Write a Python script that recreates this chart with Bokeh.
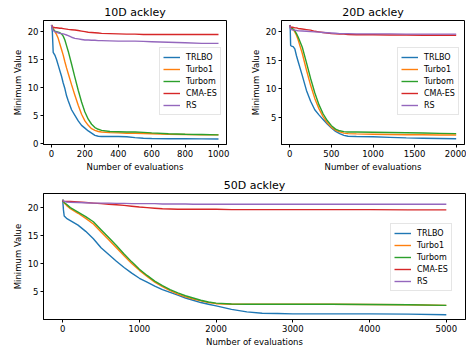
from bokeh.plotting import figure
from bokeh.layouts import column, row
from bokeh.models import Range1d, FixedTicker, Title
from bokeh.embed import file_html
from bokeh.resources import INLINE

# ---------------- data ----------------
series_names = ["TRLBO", "Turbo1", "Turbom", "CMA-ES", "RS"]
colors = ["#1f77b4", "#ff7f0e", "#2ca02c", "#d62728", "#9467bd"]

# 10D ackley
x10 = [0, 5, 10, 20, 30, 40, 50, 60, 70, 80, 90, 100, 120, 140, 160, 180, 200,
       220, 240, 260, 280, 300, 350, 400, 450, 500, 550, 600, 700, 800, 900, 1000]
trlbo10 = [21.2, 20.0, 16.3, 15.8, 15.0, 14.0, 13.0, 12.0, 10.8, 9.8, 8.5, 7.6, 6.0, 5.0, 4.0, 3.2, 2.7,
           2.2, 1.8, 1.4, 1.25, 1.2, 1.2, 1.2, 1.15, 1.0, 0.9, 0.85, 0.8, 0.8, 0.78, 0.75]
turbo1_10 = [21.2, 20.8, 20.5, 20.0, 19.5, 18.8, 17.8, 16.8, 15.8, 14.6, 13.5, 12.5, 10.5, 8.6, 6.8, 5.2, 4.0,
             3.2, 2.6, 2.3, 2.1, 2.0, 1.9, 1.85, 1.8, 1.8, 1.75, 1.7, 1.6, 1.55, 1.5, 1.5]
turbom10 = [21.2, 20.8, 20.4, 20.1, 20.0, 19.9, 19.8, 19.6, 19.2, 18.5, 17.5, 16.5, 14.2, 11.8, 9.5, 7.4, 5.6,
            4.3, 3.4, 2.8, 2.5, 2.3, 2.1, 2.05, 2.0, 2.0, 1.95, 1.85, 1.7, 1.6, 1.55, 1.5]
cmaes10 = [21.2, 20.9, 20.8, 20.7, 20.7, 20.65, 20.6, 20.6, 20.55, 20.5, 20.45, 20.4, 20.35, 20.3, 20.2, 20.1, 20.0,
           19.9, 19.85, 19.8, 19.75, 19.7, 19.65, 19.6, 19.55, 19.55, 19.5, 19.5, 19.5, 19.5, 19.5, 19.5]
rs10 = [21.2, 20.5, 20.2, 20.0, 19.9, 19.8, 19.7, 19.65, 19.6, 19.5, 19.4, 19.3, 19.0, 18.8, 18.7, 18.6, 18.5,
        18.5, 18.45, 18.45, 18.4, 18.4, 18.35, 18.3, 18.3, 18.3, 18.25, 18.2, 18.1, 18.0, 17.9, 17.9]

# 20D ackley
x20 = [0, 5, 10, 20, 40, 60, 80, 100, 150, 200, 250, 300, 350, 400, 450, 500, 550, 600, 650, 700,
       800, 1000, 1200, 1400, 1600, 1800, 2000]
trlbo20 = [21.2, 20.5, 17.6, 17.5, 17.4, 17.0, 15.8, 14.8, 12.3, 9.7, 7.8, 6.3, 5.4, 4.6, 3.8, 3.1, 2.5, 2.1, 1.8, 1.65,
           1.6, 1.55, 1.45, 1.35, 1.3, 1.25, 1.2]
turbo1_20 = [21.2, 20.9, 20.7, 20.6, 20.4, 20.0, 19.4, 18.6, 16.2, 13.3, 10.6, 8.3, 6.5, 5.1, 4.0, 3.2, 2.7, 2.4, 2.2, 2.1,
             2.05, 2.0, 1.95, 1.9, 1.9, 1.85, 1.85]
turbom20 = [21.2, 21.0, 20.8, 20.7, 20.5, 20.2, 19.7, 19.1, 17.3, 14.6, 11.8, 9.3, 7.2, 5.6, 4.4, 3.5, 2.9, 2.6, 2.45, 2.4,
            2.4, 2.35, 2.3, 2.25, 2.2, 2.15, 2.1]
cmaes20 = [21.2, 20.9, 20.8, 20.8, 20.8, 20.7, 20.7, 20.6, 20.5, 20.4, 20.3, 20.1, 20.0, 19.9, 19.8, 19.7, 19.65, 19.6, 19.6, 19.55,
           19.5, 19.5, 19.45, 19.45, 19.4, 19.4, 19.4]
rs20 = [21.2, 20.7, 20.5, 20.4, 20.3, 20.3, 20.25, 20.2, 20.15, 20.1, 20.05, 20.0, 19.95, 19.9, 19.85, 19.8, 19.75, 19.7, 19.7, 19.7,
        19.65, 19.65, 19.65, 19.6, 19.6, 19.6, 19.6]

# 50D ackley
x50 = [0, 10, 20, 50, 100, 200, 300, 400, 500, 600, 700, 800, 900, 1000, 1100, 1200, 1300, 1400, 1500,
       1600, 1700, 1800, 1900, 2000, 2200, 2400, 2600, 2800, 3000, 3500, 4000, 4500, 5000]
trlbo50 = [21.3, 19.5, 18.4, 18.0, 17.6, 16.8, 15.7, 14.4, 12.8, 11.6, 10.4, 9.3, 8.3, 7.4, 6.7, 6.0, 5.4, 4.9, 4.4,
           3.9, 3.5, 3.1, 2.8, 2.5, 1.9, 1.45, 1.2, 1.15, 1.1, 1.1, 1.1, 1.05, 0.95]
turbo1_50 = [21.3, 21.0, 20.7, 20.3, 19.7, 18.9, 18.0, 17.0, 15.6, 14.2, 12.8, 11.4, 10.0, 8.8, 7.7, 6.7, 5.9, 5.2, 4.6,
             4.1, 3.7, 3.4, 3.1, 2.9, 2.8, 2.8, 2.8, 2.8, 2.8, 2.8, 2.75, 2.7, 2.6]
turbom50 = [21.3, 21.0, 20.8, 20.5, 19.9, 19.1, 18.3, 17.4, 16.0, 14.6, 13.2, 11.7, 10.3, 9.0, 7.9, 6.9, 6.1, 5.4, 4.8,
            4.3, 3.9, 3.5, 3.2, 3.0, 2.85, 2.8, 2.8, 2.8, 2.8, 2.8, 2.75, 2.7, 2.6]
cmaes50 = [21.1, 21.0, 21.0, 21.0, 21.0, 20.9, 20.8, 20.7, 20.6, 20.5, 20.4, 20.3, 20.15, 20.0, 19.9, 19.8, 19.7, 19.65, 19.6,
           19.6, 19.6, 19.6, 19.6, 19.6, 19.55, 19.55, 19.55, 19.55, 19.55, 19.55, 19.55, 19.5, 19.5]
rs50 = [21.3, 21.1, 21.0, 20.9, 20.85, 20.8, 20.75, 20.7, 20.7, 20.7, 20.65, 20.65, 20.6, 20.6, 20.6, 20.6, 20.55, 20.55, 20.55,
        20.55, 20.5, 20.5, 20.5, 20.5, 20.5, 20.5, 20.5, 20.5, 20.5, 20.5, 20.5, 20.5, 20.5]

titles = ["10D ackley", "20D ackley", "50D ackley"]
x_ticks10 = [0, 200, 400, 600, 800, 1000]
x_ticks20 = [0, 500, 1000, 1500, 2000]
x_ticks50 = [0, 1000, 2000, 3000, 4000, 5000]
y_ticks10 = [0, 5, 10, 15, 20]
y_ticks20 = [5, 10, 15, 20]
y_ticks50 = [5, 10, 15, 20]

FONT = "DejaVu Sans"


def make_panel(title, xs, ys_list, xr, yr, xt, yt, w, h, bl, br, bt, bb, legend_loc):
    p = figure(width=w, height=h, x_range=Range1d(*xr), y_range=Range1d(*yr),
               output_backend="svg", toolbar_location=None,
               min_border_left=bl, min_border_right=br, min_border_top=bt, min_border_bottom=bb)
    p.title = Title(text=title, align="center", text_font=FONT, text_font_size="11px",
                    text_font_style="normal", text_color="black", standoff=3)
    for ys, name, c in zip(ys_list, series_names, colors):
        p.line(xs, ys, line_color=c, line_width=1.4, legend_label=name)
    p.grid.visible = False
    p.outline_line_color = "black"
    p.outline_line_width = 1
    p.background_fill_color = "white"
    p.border_fill_color = "white"
    for ax in (p.xaxis[0], p.yaxis[0]):
        ax.axis_line_color = "black"
        ax.major_tick_line_color = "black"
        ax.major_tick_out = 3
        ax.major_tick_in = 0
        ax.minor_tick_line_color = None
        ax.major_label_text_font = FONT
        ax.major_label_text_font_size = "8.5px"
        ax.major_label_text_color = "black"
        ax.major_label_standoff = 2
        ax.axis_label_text_font = FONT
        ax.axis_label_text_font_size = "8.5px"
        ax.axis_label_text_font_style = "normal"
        ax.axis_label_text_color = "black"
        ax.axis_label_standoff = 2
    p.xaxis[0].ticker = FixedTicker(ticks=xt)
    p.yaxis[0].ticker = FixedTicker(ticks=yt)
    p.xaxis[0].axis_label = "Number of evaluations"
    p.yaxis[0].axis_label = "Minimum Value"
    lg = p.legend[0]
    lg.location = legend_loc
    lg.label_text_font = FONT
    lg.label_text_font_size = "8px"
    lg.label_text_color = "black"
    lg.label_height = 12
    lg.glyph_height = 12
    lg.glyph_width = 17
    lg.label_standoff = 6
    lg.spacing = 0
    lg.padding = 3
    lg.margin = 0
    lg.border_line_color = "#cccccc"
    lg.border_line_width = 1
    lg.background_fill_alpha = 0.85
    return p


p1 = make_panel(titles[0], x10, [trlbo10, turbo1_10, turbom10, cmaes10, rs10],
                (-48, 1048), (-0.23, 22.0), x_ticks10, y_ticks10,
                240, 174, 43, 14, 20, 30, (116, 29))
p2 = make_panel(titles[1], x20, [trlbo20, turbo1_20, turbom20, cmaes20, rs20],
                (-100, 2100), (0.19, 22.0), x_ticks20, y_ticks20,
                226, 174, 41, 2, 20, 30, (116, 29))
p3 = make_panel(titles[2], x50, [trlbo50, turbo1_50, turbom50, cmaes50, rs50],
                (-250, 5250), (0.1, 22.4), x_ticks50, y_ticks50,
                466, 175, 43, 1, 19, 30, (347, 28))

layout = column(row(p1, p2), p3)
open("out.html", "w").write(file_html(layout, INLINE))
